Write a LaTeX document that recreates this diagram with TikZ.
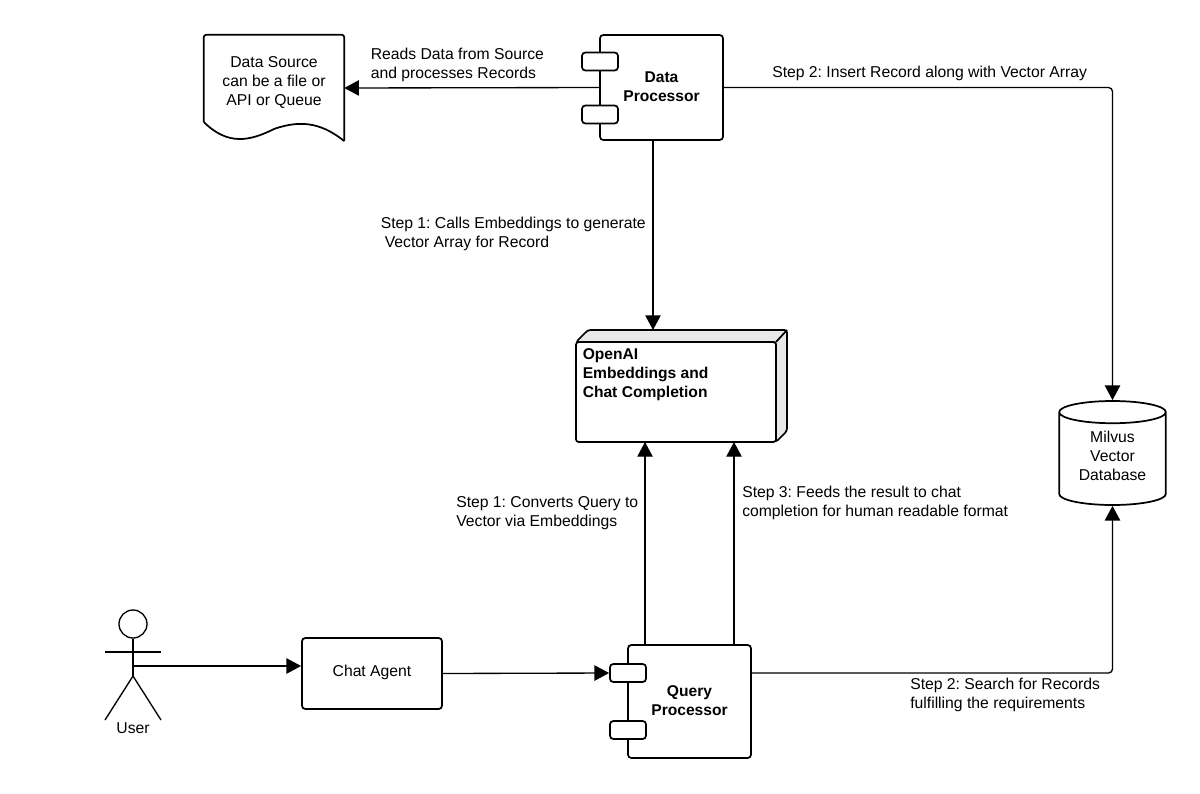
\documentclass[tikz,border=0pt]{standalone}
\usepackage{fontspec}
\setmainfont{Liberation Sans}
\usetikzlibrary{arrows.meta, shapes.geometric}
\frenchspacing

\begin{document}
\begin{tikzpicture}[
    x=0.75pt,
    y=-0.75pt,
    flow/.style={
        line width=1pt,
        rounded corners=3pt,
        -{Triangle[length=11pt, width=11.5pt]},
    },
    box/.style={
        draw,
        line width=1.3pt,
        rounded corners=2.5pt,
        fill=white,
        align=center,
        inner sep=0pt,
        font=\fontsize{11.8}{14.2}\selectfont,
    },
    component/.style={
        box,
        minimum width=92.25pt,
        font=\fontsize{11.7}{14.2}\selectfont\bfseries,
    },
    port/.style={
        box,
        minimum width=27pt,
        minimum height=13.5pt,
    },
    caption/.style={
        align=left,
        inner sep=0pt,
        anchor=west,
        font=\fontsize{11.8}{14.2}\selectfont,
    },
    actor/.style={
        line width=1pt,
    },
]
    \useasboundingbox (0,0) rectangle (1200,793);

    % Components
    \node[component, minimum height=78.75pt] (dataproc) at (661.5,87.5) {\\[-8pt]Data\\Processor};
    \node[port] (dataport1) at (600,61.5) {};
    \node[port] (dataport2) at (600,114.5) {};
    \node[component, minimum height=84.75pt] (queryproc) at (689.5,701.5) {\\[-8pt]Query\\Processor};
    \node[port] (queryport1) at (628,673) {};
    \node[port] (queryport2) at (628,730) {};

    % Data source
    \node[align=center, inner sep=0pt, minimum width=105pt, minimum height=79.5pt,
          font=\fontsize{11.8}{14.2}\selectfont] (source) at (274,88) {\\[-16.5pt]Data Source\\can be a file or\\API or Queue};
    \draw[line width=1.3pt, rounded corners=2pt] (source.west |- 0,122)
        -- (source.north west) -- (source.north east) -- (source.east |- 0,141);
    \draw[line width=1.3pt] (source.east |- 0,141)
        .. controls (325,126) and (305,118) .. (274,129)
        .. controls (250,141) and (228,146) .. (source.west |- 0,122);

    % Embeddings
    \node[minimum width=158.25pt, minimum height=84pt, inner sep=0pt] (openai) at (681.5,386) {};
    \coordinate (frontnw) at (576,342);
    \coordinate (frontne) at (776,342);
    \coordinate (frontse) at (776,442);
    \coordinate (frontsw) at (576,442);
    \draw[line width=1.3pt, fill=black!9, rounded corners=2pt] (frontnw) -- (588,330) -- (787,330)
        -- (787,431) -- (frontse) -- (frontne) -- cycle;
    \draw[line width=1.3pt, fill=white, rounded corners=2pt] (frontnw) -- (frontne) -- (frontse)
        -- (frontsw) -- cycle;
    \draw[line width=1.3pt] (frontne) -- (787,330);
    \node[caption, font=\fontsize{11.7}{14}\selectfont\bfseries] (openaitext) at (582.5,374.5)
        {OpenAI\\Embeddings and\\Chat Completion};

    % Database
    \node[draw, cylinder, shape border rotate=90, aspect=0.33, line width=1.3pt, anchor=shape center,
          minimum width=80pt, minimum height=78pt, inner sep=0pt, align=center,
          font=\fontsize{11.8}{14.2}\selectfont] (milvus) at (1112.5,453)
        {\phantom{Milvus}\\\phantom{Vector}\\\phantom{Database}};
    \node[inner sep=0pt, align=center, font=\fontsize{11.8}{14.2}\selectfont] (milvustext) at (1112.5,456)
        {Milvus\\Vector\\Database};

    % Chat agent
    \node[box, minimum width=105pt, minimum height=53.25pt] (chat) at (372,673.5) {\\[-7.5pt]Chat Agent};

    % User
    \node[draw, circle, actor, minimum size=21pt, inner sep=0pt] (head) at (133,624) {};
    \coordinate (hip) at (133,676);
    \coordinate (hand) at (133,666);
    \draw[actor] (head.south) -- (hip);
    \draw[actor] (105,652) -- (161,652);
    \draw[actor] (105,720) -- (hip) -- (161,720);
    \node[inner sep=0pt, font=\fontsize{11.8}{14.2}\selectfont] (user) at (133,728.5) {User};

    % Connectors
    \coordinate (embedin) at (653,330);
    \coordinate (convin) at (645,442);
    \coordinate (feedin) at (734,442);
    \draw[flow] (dataproc.west) -- (source.east);
    \draw[flow] (dataproc.east) -| (milvus.north);
    \draw[flow] (embedin |- dataproc.south) -- (embedin);
    \draw[flow] (convin |- queryproc.north) -- (convin);
    \draw[flow] (feedin |- queryproc.north) -- (feedin);
    \draw[flow] (hand) -- (chat.west |- hand);
    \draw[flow] (chat.east) -- (queryport1.west);
    \draw[flow] (queryport1 -| queryproc.east) -| (milvus.south);

    % Labels
    \node[caption] (readlabel) at (370.5,64.5) {Reads Data from Source\\and processes Records};
    \node[caption] (insertlabel) at (772,73.5) {Step 2: Insert Record along with Vector Array};
    \node[caption] (embedlabel) at (380.5,233.5) {Step 1: Calls Embeddings to generate\\\hspace*{3pt}Vector Array for Record};
    \node[caption] (convlabel) at (456,513) {Step 1: Converts Query to\\Vector via Embeddings};
    \node[caption] (feedlabel) at (742,502.5) {Step 3: Feeds the result to chat\\completion for human readable format};
    \node[caption] (searchlabel) at (910,694.5) {Step 2: Search for Records\\fulfilling the requirements};

\end{tikzpicture}
\end{document}
